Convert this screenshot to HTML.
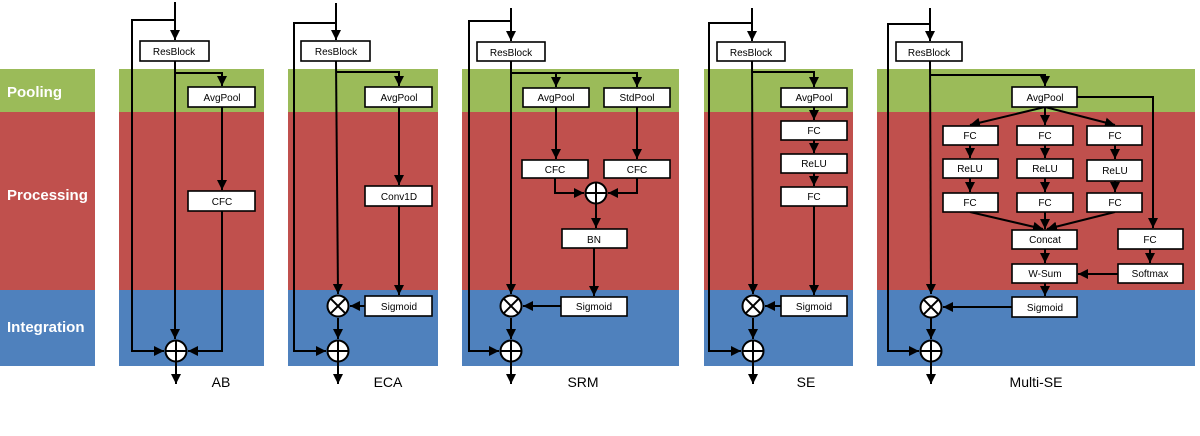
<!DOCTYPE html>
<html><head><meta charset="utf-8"><style>
html,body{margin:0;padding:0;background:#fff;width:1200px;height:436px;overflow:hidden}
text{font-family:"Liberation Sans",sans-serif}
</style></head><body>
<svg width="1200" height="436" viewBox="0 0 1200 436" xmlns="http://www.w3.org/2000/svg">
<defs>
<marker id="a" viewBox="0 0 10 10" refX="10" refY="5" markerWidth="5" markerHeight="5" orient="auto" markerUnits="strokeWidth">
<path d="M0,0 L10,5 L0,10 z" fill="#000"/></marker>
</defs>
<g>
<rect x="0" y="69" width="95" height="43" fill="#9bbb59"/><rect x="0" y="112" width="95" height="178" fill="#c0504d"/><rect x="0" y="290" width="95" height="76" fill="#4f81bd"/>
<rect x="119" y="69" width="145" height="43" fill="#9bbb59"/><rect x="119" y="112" width="145" height="178" fill="#c0504d"/><rect x="119" y="290" width="145" height="76" fill="#4f81bd"/>
<rect x="288" y="69" width="150" height="43" fill="#9bbb59"/><rect x="288" y="112" width="150" height="178" fill="#c0504d"/><rect x="288" y="290" width="150" height="76" fill="#4f81bd"/>
<rect x="462" y="69" width="217" height="43" fill="#9bbb59"/><rect x="462" y="112" width="217" height="178" fill="#c0504d"/><rect x="462" y="290" width="217" height="76" fill="#4f81bd"/>
<rect x="704" y="69" width="149" height="43" fill="#9bbb59"/><rect x="704" y="112" width="149" height="178" fill="#c0504d"/><rect x="704" y="290" width="149" height="76" fill="#4f81bd"/>
<rect x="877" y="69" width="318" height="43" fill="#9bbb59"/><rect x="877" y="112" width="318" height="178" fill="#c0504d"/><rect x="877" y="290" width="318" height="76" fill="#4f81bd"/>
</g>
<g fill="#fff" font-weight="bold" font-size="15">
<text x="7" y="97">Pooling</text><text x="7" y="200">Processing</text><text x="7" y="332">Integration</text>
</g>
<g stroke="#000" stroke-width="2" fill="none">
<path d="M175,2 V40" marker-end="url(#a)"/>
<path d="M175,20 H132 V351 H164" marker-end="url(#a)"/>
<path d="M175,61 V339" marker-end="url(#a)"/>
<path d="M175,73 H222 V86" marker-end="url(#a)"/>
<path d="M222,107 V190" marker-end="url(#a)"/>
<path d="M222,211 V351 H188" marker-end="url(#a)"/>
<path d="M176,362 V384" marker-end="url(#a)"/>
<path d="M336,3 V40" marker-end="url(#a)"/>
<path d="M336,23 H294 V351 H326" marker-end="url(#a)"/>
<path d="M336,61 L338,294" marker-end="url(#a)"/>
<path d="M336,72 H399 V86" marker-end="url(#a)"/>
<path d="M399,107 V185" marker-end="url(#a)"/>
<path d="M399,206 V295" marker-end="url(#a)"/>
<path d="M365,306 H350" marker-end="url(#a)"/>
<path d="M338,318 V339" marker-end="url(#a)"/>
<path d="M338,362 V384" marker-end="url(#a)"/>
<path d="M511,8 V41" marker-end="url(#a)"/>
<path d="M511,21 H469 V351 H499" marker-end="url(#a)"/>
<path d="M511,61 V294" marker-end="url(#a)"/>
<path d="M511,73 H637 V87" marker-end="url(#a)"/>
<path d="M556,73 V87" marker-end="url(#a)"/>
<path d="M556,107 V159" marker-end="url(#a)"/>
<path d="M637,107 V159" marker-end="url(#a)"/>
<path d="M555,178 V193 H584" marker-end="url(#a)"/>
<path d="M637,178 V193 H608" marker-end="url(#a)"/>
<path d="M596,204 V228" marker-end="url(#a)"/>
<path d="M594,248 V296" marker-end="url(#a)"/>
<path d="M561,306 H523" marker-end="url(#a)"/>
<path d="M511,318 V339" marker-end="url(#a)"/>
<path d="M511,362 V384" marker-end="url(#a)"/>
<path d="M752,8 V41" marker-end="url(#a)"/>
<path d="M752,23 H709 V351 H741" marker-end="url(#a)"/>
<path d="M752,61 L753,294" marker-end="url(#a)"/>
<path d="M752,72 H814 V87" marker-end="url(#a)"/>
<path d="M814,107 V120" marker-end="url(#a)"/>
<path d="M814,140 V153" marker-end="url(#a)"/>
<path d="M814,173 V186" marker-end="url(#a)"/>
<path d="M814,206 V295" marker-end="url(#a)"/>
<path d="M781,306 H765" marker-end="url(#a)"/>
<path d="M753,318 V339" marker-end="url(#a)"/>
<path d="M753,362 V384" marker-end="url(#a)"/>
<path d="M930,8 V41" marker-end="url(#a)"/>
<path d="M930,24 H888 V351 H919" marker-end="url(#a)"/>
<path d="M930,61 L931,294" marker-end="url(#a)"/>
<path d="M930,75 H1045 V86" marker-end="url(#a)"/>
<path d="M1077,97 H1153 V228" marker-end="url(#a)"/>
<path d="M1045,107 L970,125" marker-end="url(#a)"/>
<path d="M1045,107 V125" marker-end="url(#a)"/>
<path d="M1045,107 L1115,125" marker-end="url(#a)"/>
<path d="M970,145 V158" marker-end="url(#a)"/>
<path d="M1045,145 V158" marker-end="url(#a)"/>
<path d="M1115,145 V159" marker-end="url(#a)"/>
<path d="M970,178 V192" marker-end="url(#a)"/>
<path d="M1045,178 V192" marker-end="url(#a)"/>
<path d="M1115,181 V192" marker-end="url(#a)"/>
<path d="M970,212 L1043,229" marker-end="url(#a)"/>
<path d="M1045,212 V229" marker-end="url(#a)"/>
<path d="M1115,212 L1047,229" marker-end="url(#a)"/>
<path d="M1045,249 V263" marker-end="url(#a)"/>
<path d="M1150,249 V263" marker-end="url(#a)"/>
<path d="M1118,274 H1078" marker-end="url(#a)"/>
<path d="M1045,283 V296" marker-end="url(#a)"/>
<path d="M1012,307 H943" marker-end="url(#a)"/>
<path d="M931,318 V339" marker-end="url(#a)"/>
<path d="M931,362 V384" marker-end="url(#a)"/>
</g>
<g stroke="#000" stroke-width="1.6" fill="#fff">
<rect x="140" y="41" width="69" height="20"/><rect x="188" y="87" width="67" height="20"/><rect x="188" y="191" width="67" height="20"/>
<rect x="301" y="41" width="69" height="20"/><rect x="365" y="87" width="67" height="20"/><rect x="365" y="186" width="67" height="20"/><rect x="365" y="296" width="67" height="20"/>
<rect x="477" y="42" width="68" height="19"/><rect x="523" y="88" width="66" height="19"/><rect x="604" y="88" width="66" height="19"/><rect x="522" y="160" width="66" height="18"/><rect x="604" y="160" width="66" height="18"/><rect x="562" y="229" width="65" height="19"/><rect x="561" y="297" width="66" height="19"/>
<rect x="717" y="42" width="68" height="19"/><rect x="781" y="88" width="66" height="19"/><rect x="781" y="121" width="66" height="19"/><rect x="781" y="154" width="66" height="19"/><rect x="781" y="187" width="66" height="19"/><rect x="781" y="296" width="66" height="20"/>
<rect x="896" y="42" width="66" height="19"/><rect x="1012" y="87" width="65" height="20"/>
<rect x="943" y="126" width="55" height="19"/><rect x="1017" y="126" width="56" height="19"/><rect x="1087" y="126" width="55" height="19"/>
<rect x="943" y="159" width="55" height="19"/><rect x="1017" y="159" width="56" height="19"/><rect x="1087" y="160" width="55" height="21"/>
<rect x="943" y="193" width="55" height="19"/><rect x="1017" y="193" width="56" height="19"/><rect x="1087" y="193" width="55" height="19"/>
<rect x="1012" y="230" width="65" height="19"/><rect x="1012" y="264" width="65" height="19"/><rect x="1012" y="297" width="65" height="20"/>
<rect x="1118" y="229" width="65" height="20"/><rect x="1118" y="264" width="65" height="19"/>
</g>
<g stroke="#000" stroke-width="2" fill="#fff">
<g transform="translate(176,351)"><circle r="10.5"/><path d="M-10.5,0 H10.5 M0,-10.5 V10.5"/></g>
<g transform="translate(338,351)"><circle r="10.5"/><path d="M-10.5,0 H10.5 M0,-10.5 V10.5"/></g>
<g transform="translate(511,351)"><circle r="10.5"/><path d="M-10.5,0 H10.5 M0,-10.5 V10.5"/></g>
<g transform="translate(596,193)"><circle r="10.5"/><path d="M-10.5,0 H10.5 M0,-10.5 V10.5"/></g>
<g transform="translate(753,351)"><circle r="10.5"/><path d="M-10.5,0 H10.5 M0,-10.5 V10.5"/></g>
<g transform="translate(931,351)"><circle r="10.5"/><path d="M-10.5,0 H10.5 M0,-10.5 V10.5"/></g>
<g transform="translate(338,306)"><circle r="10.5"/><path d="M-7.4,-7.4 L7.4,7.4 M-7.4,7.4 L7.4,-7.4"/></g>
<g transform="translate(511,306)"><circle r="10.5"/><path d="M-7.4,-7.4 L7.4,7.4 M-7.4,7.4 L7.4,-7.4"/></g>
<g transform="translate(753,306)"><circle r="10.5"/><path d="M-7.4,-7.4 L7.4,7.4 M-7.4,7.4 L7.4,-7.4"/></g>
<g transform="translate(931,307)"><circle r="10.5"/><path d="M-7.4,-7.4 L7.4,7.4 M-7.4,7.4 L7.4,-7.4"/></g>
</g>
<g font-size="10" text-anchor="middle" fill="#000">
<text x="174" y="55">ResBlock</text><text x="222" y="101">AvgPool</text><text x="222" y="205">CFC</text>
<text x="336" y="55">ResBlock</text><text x="399" y="101">AvgPool</text><text x="399" y="200">Conv1D</text><text x="399" y="310">Sigmoid</text>
<text x="511" y="56">ResBlock</text><text x="556" y="101">AvgPool</text><text x="637" y="101">StdPool</text><text x="555" y="173">CFC</text><text x="637" y="173">CFC</text><text x="594" y="243">BN</text><text x="594" y="310">Sigmoid</text>
<text x="751" y="56">ResBlock</text><text x="814" y="101">AvgPool</text><text x="814" y="134">FC</text><text x="814" y="167">ReLU</text><text x="814" y="200">FC</text><text x="814" y="310">Sigmoid</text>
<text x="929" y="56">ResBlock</text><text x="1045" y="101">AvgPool</text>
<text x="970" y="139">FC</text><text x="1045" y="139">FC</text><text x="1115" y="139">FC</text>
<text x="970" y="172">ReLU</text><text x="1045" y="172">ReLU</text><text x="1115" y="174">ReLU</text>
<text x="970" y="206">FC</text><text x="1045" y="206">FC</text><text x="1115" y="206">FC</text>
<text x="1045" y="243">Concat</text><text x="1045" y="277">W-Sum</text><text x="1045" y="311">Sigmoid</text>
<text x="1150" y="243">FC</text><text x="1150" y="277">Softmax</text>
</g>
<g font-size="14" text-anchor="middle" fill="#000">
<text x="221" y="387">AB</text><text x="388" y="387">ECA</text><text x="583" y="387">SRM</text><text x="806" y="387">SE</text><text x="1036" y="387">Multi-SE</text>
</g>
</svg>
</body></html>
